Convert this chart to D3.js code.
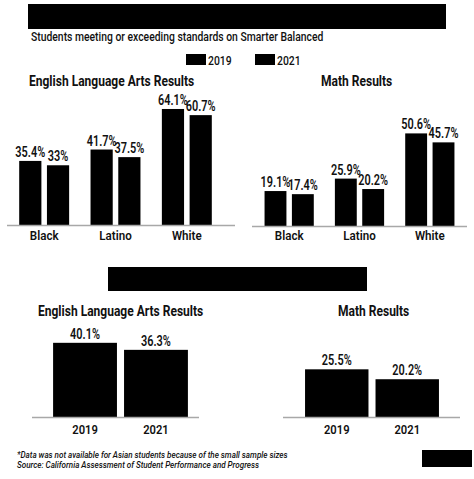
<!DOCTYPE html>
<html><head><meta charset="utf-8">
<script src="https://cdn.jsdelivr.net/npm/d3@7"></script>
<style>html,body{margin:0;padding:0;background:#fff;}svg{display:block;}</style>
</head><body>
<script>
// ---- data ----
const groups = ["Black", "Latino", "White"];
const years = ["2019", "2021"];
const elaGroup2019 = [35.4, 41.7, 64.1];
const elaGroup2021 = [33, 37.5, 60.7];
const mathGroup2019 = [19.1, 25.9, 50.6];
const mathGroup2021 = [17.4, 20.2, 45.7];
const elaAll = [40.1, 36.3];
const mathAll = [25.5, 20.2];
const subtitle = "Students meeting or exceeding standards on Smarter Balanced";
const elaTitle = "English Language Arts Results";
const mathTitle = "Math Results";
const footnotes = ["*Data was not available for Asian students because of the small sample sizes",
                   " Source: California Assessment of Student Performance and Progress"];

const W = 474, H = 479;
const FONT = "Roboto, 'Open Sans', sans-serif";
const svg = d3.select("body").append("svg").attr("width", W).attr("height", H);
svg.append("rect").attr("width", W).attr("height", H).attr("fill", "#fff");

function txt(sel, x, y, s, o = {}) {
  const t = sel.append("text")
    .attr("transform", `translate(${x},${y}) scale(${o.sx || 0.82},1)`)
    .attr("text-anchor", o.anchor || "start")
    .attr("font-family", FONT)
    .attr("font-size", o.size || 13)
    .attr("font-weight", o.weight || 500)
    .attr("fill", "#111")
    .text(s);
  if (o.italic) t.attr("font-style", "italic");
  return t;
}

// black header boxes
svg.append("rect").attr("x", 28).attr("y", 4).attr("width", 418).attr("height", 25).attr("fill", "#000");
svg.append("rect").attr("x", 108).attr("y", 267).attr("width", 259).attr("height", 24).attr("fill", "#000");
svg.append("rect").attr("x", 422).attr("y", 450).attr("width", 50).attr("height", 17).attr("fill", "#000");

txt(svg, 31, 41, subtitle, {size: 12.5, sx: 0.83});

// legend
const legX = d3.scaleOrdinal().domain(years).range([186, 255]);
const leg = svg.append("g").selectAll("g").data(years).join("g");
leg.append("rect").attr("x", d => legX(d)).attr("y", 54).attr("width", 20).attr("height", 11).attr("fill", "#000");
leg.each(function(d) { txt(d3.select(this), legX(d) + 22, 65, d, {size: 13, sx: 0.8}); });

// section titles
txt(svg, 29, 86, elaTitle, {size: 14.5, weight: 700, sx: 0.83});
txt(svg, 321, 86, mathTitle, {size: 14.5, weight: 700, sx: 0.83});
txt(svg, 38, 316, elaTitle, {size: 14.5, weight: 700, sx: 0.83});
txt(svg, 338, 316, mathTitle, {size: 14.5, weight: 700, sx: 0.83});

const fmt = v => v + "%";

function groupedChart(v2019, v2021, xr, axisX, axisY, pxPerPct) {
  const g = svg.append("g");
  const x0 = d3.scaleBand().domain(groups).range(xr).paddingInner(0.3).paddingOuter(0.15);
  const x1 = d3.scaleBand().domain(years).range([0, x0.bandwidth()]).paddingInner(0.2);
  const y = d3.scaleLinear().domain([0, 100]).range([axisY, axisY - 100 * pxPerPct]);
  const rows = groups.map((grp, i) => ({grp, vals: [{yr: "2019", v: v2019[i]}, {yr: "2021", v: v2021[i]}]}));
  const gg = g.selectAll("g.grp").data(rows).join("g").attr("class", "grp")
    .attr("transform", d => `translate(${x0(d.grp)},0)`);
  gg.selectAll("rect").data(d => d.vals).join("rect")
    .attr("x", d => x1(d.yr)).attr("width", x1.bandwidth())
    .attr("y", d => y(d.v)).attr("height", d => y(0) - y(d.v)).attr("fill", "#000");
  gg.each(function(d) {
    d.vals.forEach(b => txt(d3.select(this), x1(b.yr) + x1.bandwidth() / 2, y(b.v) - 4, fmt(b.v), {size: 14, anchor: "middle", sx: 0.78, weight: 600}));
  });
  g.append("line").attr("x1", axisX[0]).attr("x2", axisX[1]).attr("y1", axisY + 0.5).attr("y2", axisY + 0.5)
    .attr("stroke", "#a8a8a8").attr("stroke-width", 1.5);
  groups.forEach(grp => txt(g, x0(grp) + x0.bandwidth() / 2, 240, grp, {size: 13.5, anchor: "middle", sx: 0.86, weight: 600}));
}

function simpleChart(vals, xr, axisX, axisY, pxPerPct) {
  const g = svg.append("g");
  const x = d3.scaleBand().domain(years).range(xr).paddingInner(0.1).paddingOuter(0.1);
  const y = d3.scaleLinear().domain([0, 100]).range([axisY, axisY - 100 * pxPerPct]);
  const data = years.map((yr, i) => ({yr, v: vals[i]}));
  g.selectAll("rect").data(data).join("rect")
    .attr("x", d => x(d.yr)).attr("width", x.bandwidth())
    .attr("y", d => y(d.v)).attr("height", d => y(0) - y(d.v)).attr("fill", "#000");
  data.forEach(d => txt(g, x(d.yr) + x.bandwidth() / 2, y(d.v) - 4, fmt(d.v), {size: 14, anchor: "middle", sx: 0.78, weight: 600}));
  g.append("line").attr("x1", axisX[0]).attr("x2", axisX[1]).attr("y1", axisY + 0.5).attr("y2", axisY + 0.5)
    .attr("stroke", "#a8a8a8").attr("stroke-width", 1.5);
  years.forEach(yr => txt(g, x(yr) + x.bandwidth() / 2, 434, yr, {size: 13.5, anchor: "middle", sx: 0.83, weight: 600}));
}

groupedChart(elaGroup2019, elaGroup2021, [8.5, 222.5], [7, 235], 225, 1.81);
groupedChart(mathGroup2019, mathGroup2021, [254, 465], [252, 467], 226, 1.83);
simpleChart(elaAll, [46, 195], [32, 199], 417, 1.85);
simpleChart(mathAll, [298, 446], [283, 460], 417, 1.87);

txt(svg, 17, 458, footnotes[0], {size: 9.5, italic: true, sx: 0.85});
txt(svg, 17, 468, footnotes[1], {size: 9.5, italic: true, sx: 0.85});
</script>
</body></html>
